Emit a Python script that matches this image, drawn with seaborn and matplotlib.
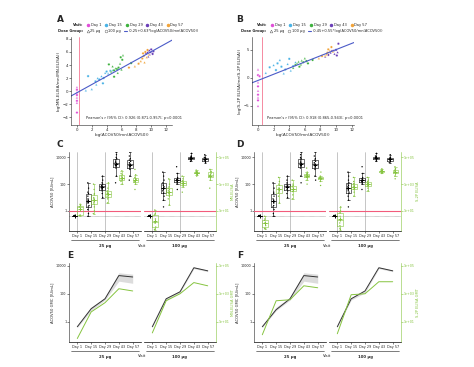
import numpy as np
import pandas as pd
import matplotlib
matplotlib.use("Agg")
import matplotlib.pyplot as plt
from matplotlib.lines import Line2D
import seaborn as sns

sns.set_theme(style="ticks")
plt.rcParams["font.family"] = ["DejaVu Sans"]
plt.rcParams.update({
    "axes.linewidth": 0.4, "xtick.major.width": 0.4, "ytick.major.width": 0.4,
    "xtick.major.size": 1.2, "ytick.major.size": 1.2,
    "xtick.labelsize": 2.8, "ytick.labelsize": 2.8, "axes.labelsize": 3.0,
    "xtick.major.pad": 0.8, "ytick.major.pad": 0.8, "axes.labelpad": 1.2,
})

visits = ["Day 1", "Day 15", "Day 29", "Day 43", "Day 57"]
doses = ["25 µg", "100 µg"]
visit_colors = ["#e04fd8", "#4ab3e6", "#3fb23f", "#6b3fb8", "#f2a43a"]
green = "#86c440"
red = "#f25c7c"
fit_color = "#4b5bc8"

# ---- panel A: log(MN-ELISA) vs log(ACOV50), one row per sample
a_x = [0, 0, 0, 0, 0, 0, 0, 0,
       1.2, 1.5, 2.0, 2.5, 2.8, 3.0, 3.3, 3.5, 3.8, 4.0, 4.2, 4.5, 4.8, 3.6, 2.6,
       4.3, 4.8, 5.0, 5.2, 5.4, 5.5, 5.6, 5.8, 5.9, 6.0, 6.1, 6.2, 5.0, 4.6, 7.3,
       9.0, 9.3, 9.5, 9.7, 9.8, 10.0, 10.1, 10.3, 9.6, 10.2, 9.9,
       7.0, 7.8, 8.3, 8.6, 8.8, 9.0, 9.2, 9.4, 9.5, 9.1, 8.9, 9.7]
a_y = [0.6, 0.2, -0.2, -0.6, -1.0, -1.5, -1.8, -3.3,
       0.1, 2.3, 0.3, 1.5, 2.0, 1.8, 2.3, 1.2, 2.8, 3.0, 2.7, 3.1, 3.2, 2.0, 1.0,
       4.1, 3.8, 3.2, 3.5, 3.4, 2.8, 3.6, 4.2, 5.2, 3.3, 4.8, 5.5, 2.2, 3.0, 4.3,
       5.5, 5.8, 6.0, 6.2, 5.6, 6.4, 5.9, 6.1, 5.3, 5.7, 6.0,
       3.6, 3.8, 4.2, 4.6, 5.0, 5.4, 6.0, 5.2, 6.3, 4.4, 5.8, 5.6]
a_visit = ["Day 1"] * 8 + ["Day 15"] * 15 + ["Day 29"] * 15 + ["Day 43"] * 11 + ["Day 57"] * 12
a_dose = (["25 µg", "100 µg"] * 31)[:61]
a_fit = [-0.25, 0.63]   # intercept, slope
a_cut = 0.27
a_note = "Pearson's r (95% CI): 0.926 (0.871-0.957); p<0.0001"

# ---- panel B: log(S-2P ELISA) vs log(ACOV50)
b_x = [0, 0, 0, 0, 0, 0, 0, 0, 0, 0.2,
       1.0, 1.5, 2.0, 2.3, 2.8, 3.0, 3.3, 3.5, 3.8, 4.0, 4.2, 4.5, 4.8, 2.5,
       4.5, 4.8, 5.0, 5.3, 5.6, 5.8, 6.0, 6.2, 5.2, 6.4, 5.5, 7.0,
       8.6, 9.0, 9.3, 9.5, 9.8, 10.0, 10.2, 10.3, 9.7, 10.1,
       7.8, 8.2, 8.6, 8.9, 9.2, 9.4, 9.6, 9.0, 8.8]
b_y = [1.5, 0.5, -0.8, -1.5, -2.3, -3.0, -3.5, -4.0, -5.0, 0.3,
       0.9, 1.9, 2.3, 1.4, 3.2, 2.0, 0.8, 1.5, 2.5, 3.4, 1.3, 2.1, 2.8, 2.6,
       1.8, 2.3, 2.6, 2.0, 3.1, 2.8, 3.5, 3.0, 2.9, 2.6, 2.4, 3.2,
       3.8, 4.1, 4.5, 4.8, 4.3, 5.0, 4.6, 6.1, 4.9, 4.0,
       3.5, 3.9, 4.0, 4.5, 4.9, 5.5, 4.7, 5.1, 4.2]
b_visit = ["Day 1"] * 10 + ["Day 15"] * 14 + ["Day 29"] * 12 + ["Day 43"] * 10 + ["Day 57"] * 9
b_dose = (["25 µg", "100 µg"] * 28)[:55]
b_fit = [-0.45, 0.55]
b_cut = 0.5
b_note = "Pearson's r (95% CI): 0.918 (0.865-0.943); p<0.0001"

# ---- panels C/D: log10 ACOV50 per subject (shared) and log10 ELISA titres
acov_25 = [[-0.35] * 6,
           [2.1, 1.7, 1.4, 1.3, 1.1, 0.9, 0.8, 0.7, 0.6, 0.4, 0.3, 0.1, -0.2, -0.4],
           [2.6, 2.3, 2.1, 2.0, 1.9, 1.85, 1.8, 1.7, 1.6, 1.5, 1.3, 1.0],
           [4.4, 4.2, 4.0, 3.9, 3.8, 3.7, 3.6, 3.5, 3.4, 3.3, 3.2, 2.6, 2.1],
           [4.4, 4.1, 3.9, 3.8, 3.7, 3.6, 3.5, 3.4, 3.3, 3.2, 3.1, 2.6, 2.3]]
acov_100 = [[-0.35] * 6,
            [2.9, 2.6, 2.3, 2.1, 2.0, 1.9, 1.8, 1.7, 1.6, 1.5, 1.4, 1.3, 1.1, 0.8, 0.3],
            [3.3, 2.8, 2.5, 2.4, 2.35, 2.3, 2.25, 2.2, 2.1, 2.0, 1.6],
            [4.3, 4.1, 4.05, 4.0, 3.95, 3.9, 3.85, 3.8, 3.7],
            [4.2, 4.0, 3.95, 3.9, 3.85, 3.8, 3.75, 3.7, 3.6]]
mn_25 = [[1.5, 1.4, 1.3, 0.7, 0.65],
         [3.0, 2.6, 2.3, 2.2, 2.0, 1.9, 1.8, 1.7, 1.6, 1.5, 1.3, 1.0, 0.8],
         [3.1, 2.7, 2.5, 2.4, 2.3, 2.2, 2.1, 2.0, 1.9, 1.6],
         [4.0, 3.8, 3.7, 3.6, 3.5, 3.45, 3.4, 3.3, 3.2, 3.0],
         [4.1, 3.7, 3.5, 3.4, 3.35, 3.3, 3.2, 3.15, 3.0, 2.6]]
mn_100 = [[1.07, 0.8, 0.7, 0.4, 0.2, 0.1, -0.2, -0.35, -0.4],
          [3.4, 3.0, 2.8, 2.7, 2.6, 2.5, 2.4, 2.3, 2.2, 2.1, 1.9, 1.45],
          [3.6, 3.4, 3.25, 3.2, 3.1, 3.05, 3.0, 2.9, 2.8, 2.4],
          [4.05, 3.95, 3.9, 3.88, 3.85, 3.82, 3.8, 3.7, 3.6],
          [4.1, 3.95, 3.9, 3.8, 3.7, 3.65, 3.6, 3.5, 3.3, 2.7]]
s2p_25 = [[0.6, 0.4, 0.3, 0.1, -0.1, -0.3, -0.35],
          [3.5, 3.2, 3.0, 2.9, 2.7, 2.6, 2.5, 2.4, 2.33, 2.1, 1.6],
          [3.3, 3.0, 2.9, 2.8, 2.7, 2.6, 2.5, 2.45, 2.2, 1.9],
          [4.2, 3.9, 3.8, 3.75, 3.7, 3.6, 3.55, 3.5, 3.3, 3.0],
          [3.9, 3.6, 3.5, 3.48, 3.45, 3.4, 3.37, 3.2, 2.9]]
s2p_100 = [[1.3, 1.0, 0.85, 0.6, 0.3, 0.1, -0.1, -0.3, -0.4],
           [3.5, 3.2, 3.05, 3.0, 2.9, 2.8, 2.7, 2.65, 2.6, 2.4, 2.1],
           [3.5, 3.3, 3.2, 3.15, 3.05, 3.0, 2.9, 2.85, 2.7, 2.5],
           [4.15, 4.05, 4.0, 3.98, 3.95, 3.92, 3.9, 3.8],
           [4.3, 4.15, 4.1, 4.0, 3.95, 3.9, 3.85, 3.8, 3.6, 3.4]]
lloq = 0.45
pos_cut = 1.0

# ---- panels E/F: log10 geometric means, with ACOV50 95% band
e_acov_25 = [-0.36, 0.93, 1.64, 3.3, 3.2]
e_acov_100 = [-0.36, 1.64, 2.14, 3.86, 3.64]
e_mn_25 = [-0.2, 1.7, 2.36, 3.36, 3.2]
e_mn_100 = [0.2, 2.5, 3.0, 3.8, 3.57]
f_acov_25 = [-0.36, 0.86, 1.64, 3.3, 3.2]
f_acov_100 = [-0.36, 1.64, 2.2, 3.86, 3.64]
f_s2p_25 = [0.07, 2.5, 2.57, 3.57, 3.43]
f_s2p_100 = [0.14, 2.93, 3.0, 3.86, 3.86]
band_lo_25 = [-0.42, 0.8, 1.55, 2.9, 2.75]
band_hi_25 = [-0.3, 1.05, 1.75, 3.5, 3.4]
band_lo_100 = [-0.4, 1.55, 2.07, 3.8, 3.58]
band_hi_100 = [-0.32, 1.72, 2.22, 3.92, 3.7]

W, H = 474, 367
FACET_W, FACET_STEP = 72, 75
fig = plt.figure(figsize=(W / 100, H / 100), dpi=100)


def rect(x0, x1, y0, y1):
    return [x0 / W, 1 - y1 / H, (x1 - x0) / W, (y1 - y0) / H]


def scatter_panel(r, xs, ys, vis, dose, fit, cut, note, ylab, xlim, ylim, yticks, formula, leg_x):
    ax = fig.add_axes(r)
    df = pd.DataFrame({"x": xs, "y": ys, "visit": vis, "dose": dose})
    ax.axvline(cut, color=red, lw=0.5)
    ax.axline((0, fit[0]), slope=fit[1], color=fit_color, lw=0.8)
    sns.scatterplot(data=df, x="x", y="y", hue="visit", hue_order=visits, palette=visit_colors,
                    style="dose", markers={"25 µg": "^", "100 µg": "o"}, s=3, linewidth=0.2,
                    legend=False, ax=ax)
    ax.set_xlim(xlim)
    ax.set_ylim(ylim)
    ax.set_xticks(range(0, 13, 2))
    ax.set_yticks(yticks)
    ax.set_xlabel("log(ACOV50/mn(ACOV50))")
    ax.set_ylabel(ylab)
    ax.text(0.62, 0.07, note, transform=ax.transAxes, fontsize=2.6, ha="center")
    sns.despine(ax=ax)
    h1 = [Line2D([], [], ls="none", label="Visit:")] + [
        Line2D([], [], ls="none", marker="o", ms=1.5, color=c, label=v) for v, c in zip(visits, visit_colors)]
    h2 = [Line2D([], [], ls="none", label="Dose Group:"),
          Line2D([], [], ls="none", marker="^", ms=2, mfc="none", color="0.3", mew=0.3, label="25 µg"),
          Line2D([], [], ls="none", marker="o", ms=2, mfc="none", color="0.3", mew=0.3, label="100 µg"),
          Line2D([], [], color=fit_color, lw=0.8, label=formula)]
    for hs, y in ((h1, 25), (h2, 31)):
        lg = fig.legend(handles=hs, loc="center", bbox_to_anchor=(leg_x / W, 1 - y / H), ncol=len(hs),
                        frameon=False, fontsize=2.6, handlelength=0.9, handletextpad=0.3,
                        columnspacing=0.9, borderpad=0)
        lg.get_texts()[0].set_fontweight("bold")


scatter_panel(rect(71, 172, 37, 125), a_x, a_y, a_visit, a_dose, a_fit, a_cut, a_note,
              "log(MN-ELISA/mn(MN-ELISA))", (-0.8, 12.8), (-5.2, 8.3), range(-4, 9, 2),
              "-0.25+0.63*log(ACOV50/mn(ACOV50))", 126)
scatter_panel(rect(252, 354, 37, 125), b_x, b_y, b_visit, b_dose, b_fit, b_cut, b_note,
              "log(S-2P ELISA/mn(S-2P ELISA))", (-0.77, 12.3), (-8.4, 7.3), [-5, 0, 5],
              "-0.45+0.55*log(ACOV50/mn(ACOV50))", 310)


def strip_labels(ax, dose):
    ax.plot([0.03, 0.97], [-0.12, -0.12], transform=ax.transAxes, clip_on=False, color="k", lw=0.4)
    ax.text(0.5, -0.2, dose, transform=ax.transAxes, ha="center", fontsize=2.8, fontweight="bold")


def long_df(logs, name):
    rows = [(v, 10 ** x, name) for v, vals in zip(visits, logs) for x in vals]
    return pd.DataFrame(rows, columns=["visit", "value", "assay"])


def style_pair(ax, tw, i, ylab, rlab, dose):
    ax.set_xticks(range(len(visits)))
    ax.set_xticklabels(visits, fontsize=2.4)
    ax.set_xlim(-0.6, 4.6)
    ax.set_xlabel("")
    tw.set_xlabel("")
    ax.set_ylabel("")
    tw.set_ylabel("")
    ax.set_yticks([1, 100, 10000])
    ax.set_yticklabels(["1", "100", "10000"])
    ax.tick_params(axis="y", labelsize=2.4)
    ax.yaxis.set_minor_locator(matplotlib.ticker.NullLocator())
    tw.yaxis.set_minor_locator(matplotlib.ticker.NullLocator())
    tw.set_yticks([10, 1000, 100000])
    ax.spines["top"].set_visible(False)
    tw.spines["top"].set_visible(False)
    tw.spines["left"].set_visible(False)
    ax.spines["right"].set_visible(False)
    if i == 0:
        ax.set_ylabel(ylab, fontsize=2.7, labelpad=0.6)
        tw.spines["right"].set_visible(False)
        tw.set_yticks([])
    else:
        ax.spines["left"].set_visible(False)
        ax.tick_params(axis="y", left=False, labelleft=False)
        tw.spines["right"].set_color(green)
        tw.tick_params(axis="y", colors=green, labelsize=2.3)
        tw.set_yticklabels(["1e+01", "1e+03", "1e+05"])
        tw.set_ylabel(rlab, color=green, fontsize=2.6, labelpad=0.8)
    strip_labels(ax, dose)


def box_panel(x0, top, bottom, acov, elisa, ylab, rlab):
    lefts = [x0, x0 + FACET_STEP]
    for i, (a_logs, e_logs, dose) in enumerate(zip(acov, elisa, doses)):
        ax = fig.add_axes(rect(lefts[i], lefts[i] + FACET_W, top, bottom))
        tw = ax.twinx()
        ax.set_yscale("log")
        tw.set_yscale("log")
        ax.axvline(0, color="0.6", lw=0.4)
        ax.axvline(2, color="0.6", lw=0.4)
        ax.axhline(pos_cut, color=red, lw=0.8, zorder=5)
        ax.axhline(lloq, color="0.45", lw=0.4, ls=(0, (1, 1)))
        for dfp, axp, col in ((long_df(a_logs, "ACOV50"), ax, "black"),
                              (long_df(e_logs, "ELISA"), tw, green)):
            sns.boxplot(data=dfp, x="visit", y="value", order=visits, hue="assay",
                        hue_order=["ACOV50", "ELISA"], palette={"ACOV50": "black", "ELISA": green},
                        dodge=True, fill=False, width=0.8, linewidth=0.4, fliersize=0,
                        showmeans=True, meanprops=dict(marker="+", markeredgecolor=col, markersize=3,
                                                       markeredgewidth=0.7),
                        legend=False, ax=axp)
            sns.stripplot(data=dfp, x="visit", y="value", order=visits, hue="assay",
                          hue_order=["ACOV50", "ELISA"], palette={"ACOV50": "black", "ELISA": green},
                          dodge=True, jitter=0.1, size=1.0, legend=False, ax=axp)
        ax.set_ylim(10 ** -1.5, 10 ** 4.4)
        tw.set_ylim(10 ** -0.5, 10 ** 5.4)
        style_pair(ax, tw, i, ylab, rlab, dose)
    fig.text((x0 + 73) / W, 1 - (bottom + 16) / H, "Visit", fontsize=2.8, ha="center")


box_panel(69, 152, 231, [acov_25, acov_100], [mn_25, mn_100], "ACOV50 [IU/mL]", "MN-ELISA")
box_panel(254, 152, 231, [acov_25, acov_100], [s2p_25, s2p_100], "ACOV50 [IU/mL]", "S-2P ELISA")


def line_panel(x0, top, bottom, acov, elisa, lo, hi, ylab, rlab):
    lefts = [x0, x0 + FACET_STEP]
    xs = np.arange(len(visits))
    for i, (a_gm, e_gm, l, h, dose) in enumerate(zip(acov, elisa, lo, hi, doses)):
        ax = fig.add_axes(rect(lefts[i], lefts[i] + FACET_W, top, bottom))
        tw = ax.twinx()
        ax.set_yscale("log")
        tw.set_yscale("log")
        ax.fill_between(xs, 10 ** np.array(l), 10 ** np.array(h), color="#dcdcdc", lw=0)
        sns.lineplot(x=xs, y=10 ** np.array(a_gm), color="#333333", lw=0.7, ax=ax)
        sns.lineplot(x=xs, y=10 ** np.array(e_gm), color=green, lw=0.7, ax=tw)
        ax.set_ylim(10 ** -1.45, 10 ** 4.2)
        tw.set_ylim(10 ** -0.45, 10 ** 5.2)
        style_pair(ax, tw, i, ylab, rlab, dose)
    fig.text((x0 + 73) / W, 1 - (bottom + 15) / H, "Visit", fontsize=2.8, ha="center")


line_panel(69, 263, 342, [e_acov_25, e_acov_100], [e_mn_25, e_mn_100], [band_lo_25, band_lo_100],
           [band_hi_25, band_hi_100], "ACOV50 GMC [IU/mL]", "MN-ELISA GMT")
line_panel(254, 263, 342, [f_acov_25, f_acov_100], [f_s2p_25, f_s2p_100], [band_lo_25, band_lo_100],
           [band_hi_25, band_hi_100], "ACOV50 GMC [IU/mL]", "S-2P ELISA GMT")

for letter, (x, y) in zip("ABCDEF", [(60, 20), (240, 20), (60, 145), (240, 145), (70, 255), (240, 255)]):
    fig.text(x / W, 1 - y / H, letter, fontsize=6.5, fontweight="bold", va="center", ha="center")

fig.savefig("out.png", dpi=100)
